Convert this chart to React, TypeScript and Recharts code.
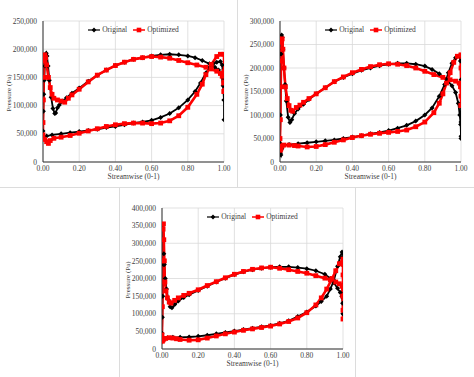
import React from 'react';
import { ComposedChart, Line, XAxis, YAxis, CartesianGrid } from 'recharts';

type Pt = [number, number];

// streamwise ticks shared by all three panels
const xTicks = [0, 0.2, 0.4, 0.6, 0.8, 1.0];

const c1YTicks = [0, 50000, 100000, 150000, 200000, 250000];
const c2YTicks = [0, 50000, 100000, 150000, 200000, 250000, 300000];
const c3YTicks = [0, 50000, 100000, 150000, 200000, 250000, 300000, 350000, 400000];

// panel 1 (top left)
const c1Original: Pt[] = [
  [1.0, 110000], [0.995, 135000], [0.985, 155000], [0.97, 163000], [0.95, 168000], [0.92, 174000],
  [0.88, 180000], [0.84, 185000], [0.80, 188000], [0.75, 190000], [0.70, 191000], [0.65, 190000],
  [0.60, 188000], [0.55, 185000], [0.50, 182000], [0.45, 177000], [0.40, 171000], [0.35, 163000],
  [0.30, 154000], [0.25, 143000], [0.20, 131000], [0.16, 122000], [0.13, 114000], [0.11, 108000],
  [0.09, 101000], [0.08, 96000], [0.07, 87000], [0.065, 86000], [0.055, 95000], [0.045, 115000],
  [0.035, 145000], [0.028, 170000], [0.022, 188000], [0.018, 193000], [0.014, 190000], [0.01, 170000],
  [0.007, 145000], [0.004, 120000], [0.002, 90000], [0.0, 55000],
  [0.0, 42000], [0.005, 44000], [0.02, 46000], [0.05, 48000], [0.10, 50000], [0.15, 52000],
  [0.20, 54000], [0.25, 56000], [0.30, 58000], [0.35, 61000], [0.40, 63000], [0.45, 66000],
  [0.50, 69000], [0.55, 71000], [0.60, 74000], [0.65, 79000], [0.70, 86000], [0.75, 96000],
  [0.80, 110000], [0.84, 125000], [0.87, 140000], [0.90, 158000], [0.92, 168000], [0.94, 174000],
  [0.96, 177000], [0.98, 178000], [0.99, 172000], [0.995, 150000], [1.0, 110000], [1.0, 75000],
];
const c1Optimized: Pt[] = [
  [1.0, 125000], [0.998, 140000], [0.99, 152000], [0.98, 157000], [0.96, 161000], [0.93, 165000],
  [0.90, 168000], [0.85, 172000], [0.80, 176000], [0.75, 180000], [0.70, 184000], [0.65, 186000],
  [0.60, 187000], [0.55, 185000], [0.50, 182000], [0.45, 177000], [0.40, 171000], [0.35, 163000],
  [0.30, 154000], [0.25, 142000], [0.20, 129000], [0.16, 119000], [0.14, 113000], [0.12, 106000],
  [0.10, 108000], [0.08, 110000], [0.06, 113000], [0.05, 120000], [0.04, 132000], [0.03, 150000],
  [0.02, 172000], [0.014, 185000], [0.01, 190000], [0.007, 180000], [0.004, 150000], [0.002, 110000],
  [0.0, 70000],
  [0.0, 48000], [0.01, 40000], [0.02, 36000], [0.03, 33000], [0.04, 38000], [0.06, 42000],
  [0.10, 44000], [0.15, 47000], [0.20, 51000], [0.25, 55000], [0.30, 59000], [0.35, 63000],
  [0.40, 66000], [0.45, 68000], [0.50, 69000], [0.55, 69000], [0.60, 68000], [0.65, 69000],
  [0.70, 73000], [0.75, 82000], [0.80, 97000], [0.85, 120000], [0.88, 138000], [0.90, 155000],
  [0.93, 173000], [0.96, 187000], [0.98, 191000], [1.0, 191000], [1.0, 160000], [1.0, 125000],
];

// panel 2 (top right)
const c2Original: Pt[] = [
  [1.0, 55000], [0.998, 80000], [0.993, 100000], [0.985, 125000], [0.97, 148000], [0.95, 162000],
  [0.92, 176000], [0.88, 188000], [0.84, 197000], [0.80, 204000], [0.75, 208000], [0.70, 210000],
  [0.65, 210000], [0.60, 208000], [0.55, 205000], [0.50, 200000], [0.45, 195000], [0.40, 188000],
  [0.35, 180000], [0.30, 171000], [0.25, 158000], [0.20, 145000], [0.16, 133000], [0.13, 123000],
  [0.10, 113000], [0.08, 103000], [0.065, 90000], [0.055, 84000], [0.045, 95000], [0.035, 130000],
  [0.028, 165000], [0.022, 200000], [0.016, 240000], [0.012, 265000], [0.009, 270000], [0.006, 230000],
  [0.004, 160000], [0.002, 100000], [0.0, 40000],
  [0.002, 18000], [0.005, 15000], [0.01, 28000], [0.02, 35000], [0.05, 37000], [0.10, 39000],
  [0.15, 41000], [0.20, 43000], [0.25, 45000], [0.30, 47000], [0.35, 50000], [0.40, 53000],
  [0.45, 56000], [0.50, 60000], [0.55, 63000], [0.60, 67000], [0.65, 72000], [0.70, 78000],
  [0.75, 87000], [0.80, 100000], [0.84, 115000], [0.88, 140000], [0.91, 165000], [0.93, 190000],
  [0.95, 210000], [0.97, 222000], [0.99, 226000], [0.997, 215000], [1.0, 175000], [1.0, 120000],
  [1.0, 85000], [1.0, 50000],
];
const c2Optimized: Pt[] = [
  [1.0, 120000], [1.0, 140000], [0.997, 160000], [0.99, 168000], [0.97, 172000], [0.94, 175000],
  [0.90, 180000], [0.85, 186000], [0.80, 193000], [0.75, 200000], [0.70, 205000], [0.65, 208000],
  [0.60, 209000], [0.55, 207000], [0.50, 203000], [0.45, 197000], [0.40, 190000], [0.35, 181000],
  [0.30, 171000], [0.25, 158000], [0.20, 145000], [0.16, 135000], [0.13, 127000], [0.11, 121000],
  [0.09, 116000], [0.07, 108000], [0.06, 110000], [0.05, 120000], [0.04, 135000], [0.03, 160000],
  [0.022, 200000], [0.016, 240000], [0.012, 262000], [0.009, 255000], [0.006, 215000], [0.004, 160000],
  [0.002, 90000], [0.0, 50000],
  [0.002, 25000], [0.005, 28000], [0.01, 34000], [0.02, 36000], [0.05, 36000], [0.08, 35000],
  [0.10, 34000], [0.15, 32000], [0.20, 33000], [0.25, 37000], [0.30, 42000], [0.35, 47000],
  [0.40, 52000], [0.45, 56000], [0.50, 59000], [0.55, 61000], [0.60, 63000], [0.65, 65000],
  [0.70, 68000], [0.75, 75000], [0.80, 85000], [0.85, 105000], [0.88, 125000], [0.90, 145000],
  [0.92, 168000], [0.94, 190000], [0.96, 212000], [0.98, 225000], [1.0, 228000], [1.0, 200000],
  [1.0, 165000], [1.0, 120000],
];

// panel 3 (bottom)
const c3Original: Pt[] = [
  [1.0, 100000], [0.998, 130000], [0.993, 150000], [0.985, 160000], [0.97, 172000], [0.95, 188000],
  [0.93, 200000], [0.90, 212000], [0.85, 222000], [0.80, 228000], [0.75, 231000], [0.70, 233000],
  [0.65, 233000], [0.60, 232000], [0.55, 229000], [0.50, 225000], [0.45, 219000], [0.40, 211000],
  [0.35, 201000], [0.30, 190000], [0.25, 178000], [0.20, 166000], [0.15, 154000], [0.12, 146000],
  [0.09, 136000], [0.07, 126000], [0.055, 117000], [0.045, 120000], [0.035, 140000], [0.025, 170000],
  [0.018, 200000], [0.013, 240000], [0.01, 270000], [0.007, 240000], [0.004, 150000], [0.002, 90000],
  [0.0, 45000],
  [0.002, 28000], [0.005, 27000], [0.01, 30000], [0.03, 32000], [0.06, 33000], [0.10, 33000],
  [0.15, 34000], [0.20, 36000], [0.25, 39000], [0.30, 43000], [0.35, 47000], [0.40, 51000],
  [0.45, 55000], [0.50, 59000], [0.55, 63000], [0.60, 67000], [0.65, 73000], [0.70, 80000],
  [0.75, 92000], [0.80, 105000], [0.85, 122000], [0.88, 135000], [0.91, 150000], [0.93, 170000],
  [0.95, 195000], [0.97, 235000], [0.985, 262000], [0.995, 275000], [1.0, 272000], [1.0, 240000],
  [1.0, 180000], [1.0, 100000],
];
const c3Optimized: Pt[] = [
  [1.0, 85000], [1.0, 110000], [0.998, 150000], [0.995, 178000], [0.98, 185000], [0.96, 190000],
  [0.93, 196000], [0.90, 201000], [0.85, 208000], [0.80, 215000], [0.75, 220000], [0.70, 225000],
  [0.65, 229000], [0.60, 232000], [0.55, 230000], [0.50, 226000], [0.45, 220000], [0.40, 212000],
  [0.35, 202000], [0.30, 191000], [0.25, 180000], [0.20, 168000], [0.15, 158000], [0.12, 152000],
  [0.09, 145000], [0.07, 138000], [0.05, 130000], [0.04, 133000], [0.03, 145000], [0.022, 165000],
  [0.016, 190000], [0.013, 250000], [0.01, 310000], [0.008, 355000], [0.006, 340000], [0.004, 250000],
  [0.002, 120000], [0.0, 40000],
  [0.002, 22000], [0.005, 25000], [0.01, 28000], [0.02, 30000], [0.04, 32000], [0.06, 31000],
  [0.08, 29000], [0.10, 27000], [0.15, 25000], [0.20, 26000], [0.25, 31000], [0.30, 37000],
  [0.35, 43000], [0.40, 48000], [0.45, 53000], [0.50, 57000], [0.55, 61000], [0.60, 65000],
  [0.65, 71000], [0.70, 78000], [0.75, 88000], [0.80, 103000], [0.85, 125000], [0.88, 145000],
  [0.91, 170000], [0.94, 200000], [0.96, 222000], [0.98, 242000], [1.0, 255000], [1.0, 240000],
  [1.0, 210000], [1.0, 180000],
];

const FONT = "'Times New Roman', 'Liberation Serif', serif";
const TEXT = '#404040';
const RED = '#ff0000';

const toRows = (pts: Pt[]) => pts.map(([x, y]) => ({ x, y }));

const Diamond = (props: any) => {
  const { cx, cy, index } = props;
  if (cx == null || cy == null) return <g key={`d${index}`} />;
  const r = 2.5;
  return <path key={`d${index}`} d={`M${cx},${cy - r}L${cx + r},${cy}L${cx},${cy + r}L${cx - r},${cy}Z`} fill="#000" />;
};

const Square = (props: any) => {
  const { cx, cy, index } = props;
  if (cx == null || cy == null) return <g key={`s${index}`} />;
  return <rect key={`s${index}`} x={cx - 2.4} y={cy - 2.4} width={4.8} height={4.8} fill={RED} />;
};

function LegendBox() {
  return (
    <div style={{ position: 'absolute', left: 43, width: 181, top: 25, display: 'flex', justifyContent: 'center', alignItems: 'center', fontFamily: FONT, fontSize: 7.5, color: TEXT, lineHeight: '9px' }}>
      <svg width={12} height={6} style={{ marginRight: 2 }}>
        <line x1={0} y1={3} x2={12} y2={3} stroke="#000" strokeWidth={1.2} />
        <path d="M6,0.6L8.4,3L6,5.4L3.6,3Z" fill="#000" />
      </svg>
      <span style={{ marginRight: 6 }}>Original</span>
      <svg width={12} height={6} style={{ marginRight: 2 }}>
        <line x1={0} y1={3} x2={12} y2={3} stroke={RED} strokeWidth={1.5} />
        <rect x={3.7} y={0.7} width={4.6} height={4.6} fill={RED} />
      </svg>
      <span>Optimized</span>
    </div>
  );
}

function PressurePanel({ left, top, yMax, yTicks, original, optimized }: {
  left: number; top: number; yMax: number; yTicks: number[]; original: Pt[]; optimized: Pt[];
}) {
  const tick = { fill: TEXT, fontSize: 7.5, fontFamily: FONT };
  return (
    <div style={{ position: 'absolute', left, top, width: 237, height: 187 }}>
      <ComposedChart width={237} height={187} margin={{ top: 21, right: 13, bottom: 0, left: 0 }}>
        <CartesianGrid stroke="#d9d9d9" strokeWidth={0.8} />
        <XAxis
          dataKey="x"
          type="number"
          domain={[0, 1]}
          ticks={xTicks}
          tickFormatter={(v: number) => v.toFixed(2)}
          height={25}
          tickSize={0}
          tickMargin={4}
          tick={tick}
          stroke="#333"
          allowDataOverflow
          label={{
            content: () => (
              <text x={133.5} y={179} textAnchor="middle" fill={TEXT} fontSize={7.5} fontFamily={FONT}>
                Streamwise (0-1)
              </text>
            ),
          }}
        />
        <YAxis
          dataKey="y"
          type="number"
          domain={[0, yMax]}
          ticks={yTicks}
          tickFormatter={(v: number) => v.toLocaleString('en-US')}
          width={43}
          tickSize={0}
          tickMargin={6}
          tick={tick}
          stroke="#333"
          allowDataOverflow
          label={{
            content: () => (
              <text x={9} y={93} transform="rotate(-90 9 93)" textAnchor="middle" dominantBaseline="central" fill={TEXT} fontSize={7} fontFamily={FONT}>
                Pressure (Pa)
              </text>
            ),
          }}
        />
        <Line
          data={toRows(original)}
          dataKey="y"
          name="Original"
          stroke="#000"
          strokeWidth={1.8}
          dot={Diamond}
          activeDot={false}
          isAnimationActive={false}
        />
        <Line
          data={toRows(optimized)}
          dataKey="y"
          name="Optimized"
          stroke={RED}
          strokeWidth={2.6}
          dot={Square}
          activeDot={false}
          isAnimationActive={false}
        />
      </ComposedChart>
      <LegendBox />
    </div>
  );
}

export default function App() {
  const frame = { position: 'absolute' as const, border: '1px solid #dcdcdc', boxSizing: 'border-box' as const };
  return (
    <div style={{ position: 'absolute', left: 0, top: 0, width: 474, height: 377, overflow: 'hidden', background: '#fff' }}>
      <div style={{ ...frame, left: -1, top: -1, width: 239, height: 189 }} />
      <div style={{ ...frame, left: 237, top: -1, width: 239, height: 189 }} />
      <div style={{ ...frame, left: 119, top: 187, width: 237, height: 200 }} />
      <PressurePanel left={0} top={0} yMax={250000} yTicks={c1YTicks} original={c1Original} optimized={c1Optimized} />
      <PressurePanel left={237} top={0} yMax={300000} yTicks={c2YTicks} original={c2Original} optimized={c2Optimized} />
      <PressurePanel left={119} top={187} yMax={400000} yTicks={c3YTicks} original={c3Original} optimized={c3Optimized} />
    </div>
  );
}
